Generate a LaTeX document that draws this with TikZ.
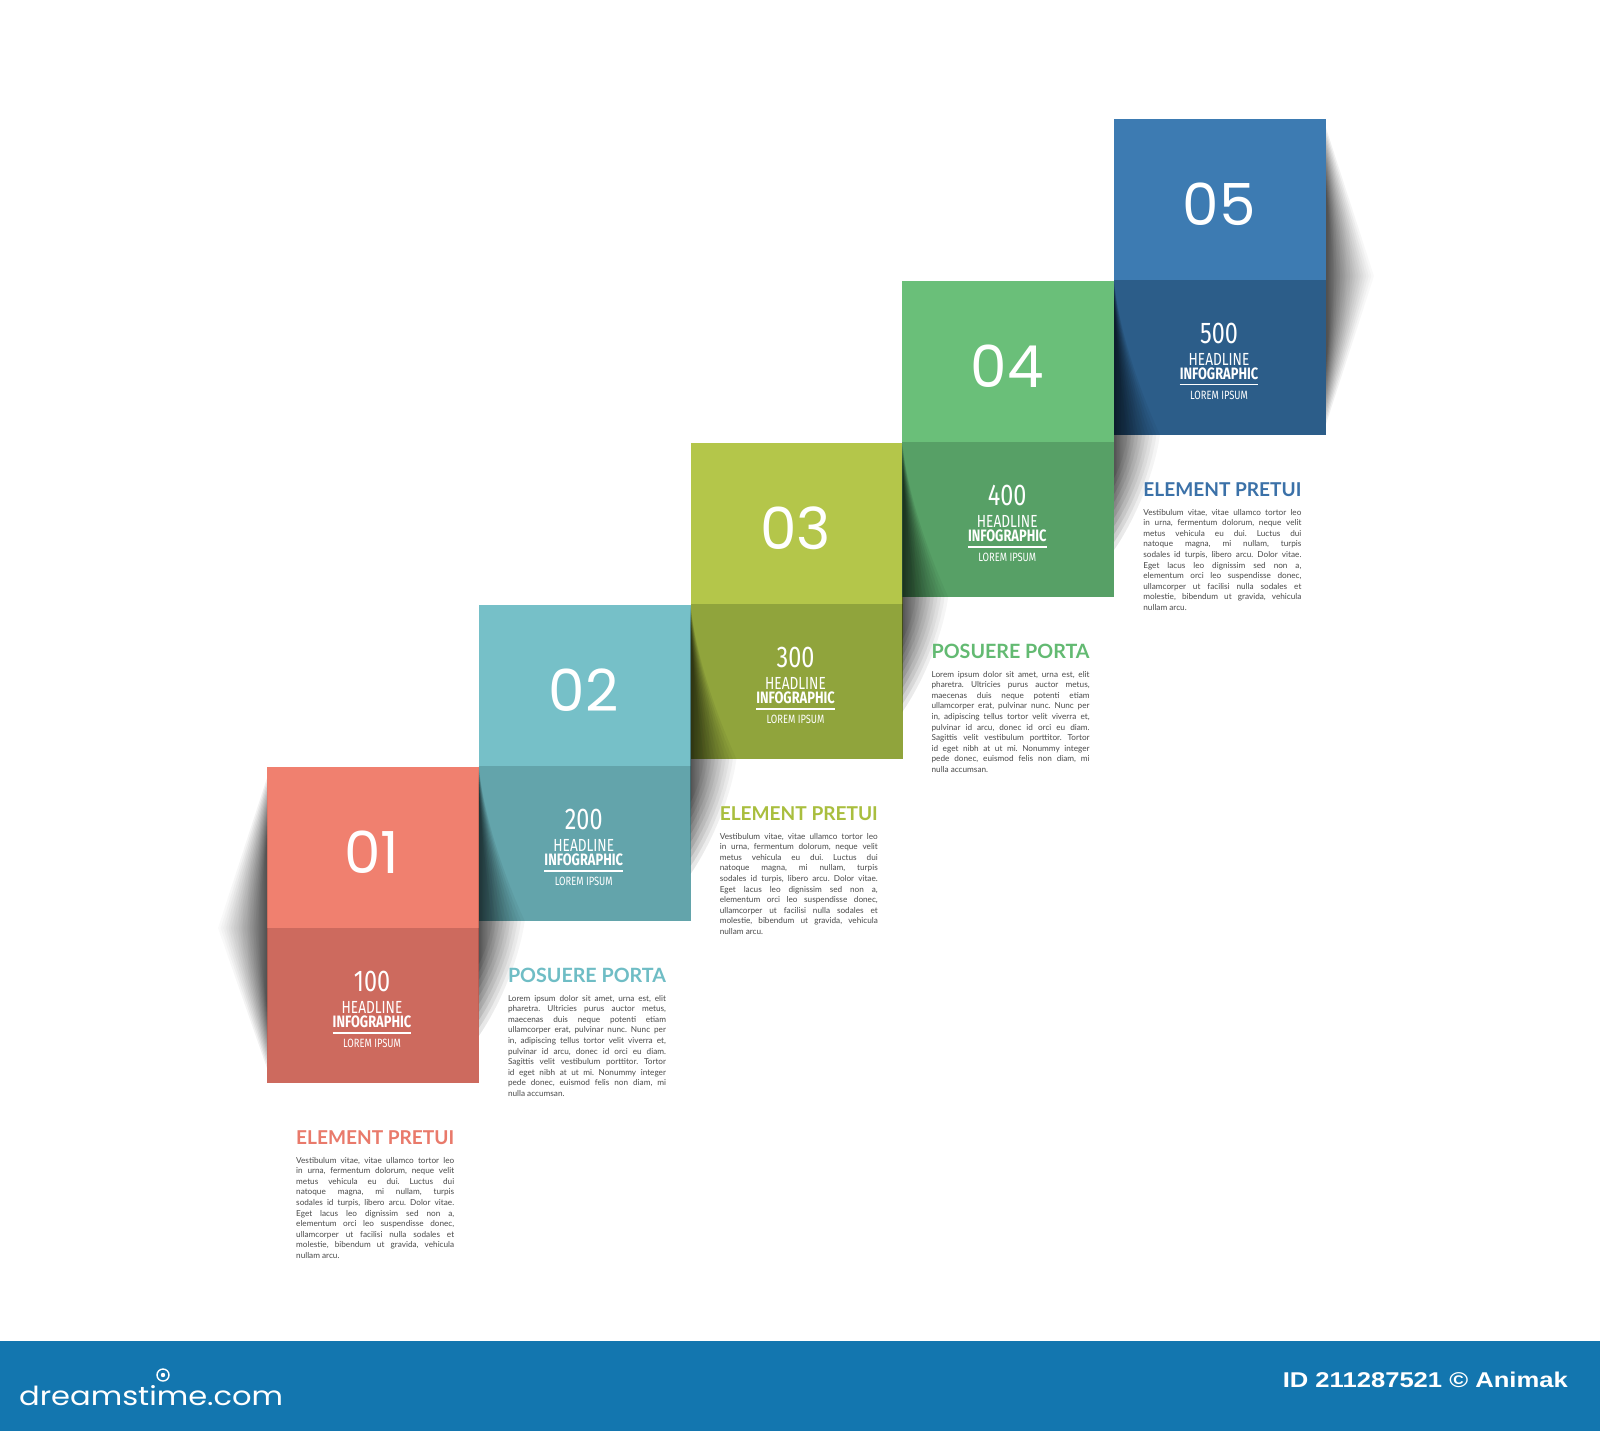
\documentclass[tikz,border=0pt]{standalone}
\usepackage{graphicx}
\usepackage{fontspec}
\setmainfont{Lato}
\newfontfamily\numfont{Poppins}
\newfontfamily\condfont[FakeStretch=0.78]{Fira Sans}
\newfontfamily\credfont{Liberation Sans}
\usetikzlibrary{fadings}
\definecolor{ca1}{HTML}{F0806F}\definecolor{cb1}{HTML}{CD6A5E}
\definecolor{ca2}{HTML}{76C0C8}\definecolor{cb2}{HTML}{63A4AB}
\definecolor{ca3}{HTML}{B4C64A}\definecolor{cb3}{HTML}{90A43C}
\definecolor{ca4}{HTML}{6ABF79}\definecolor{cb4}{HTML}{57A066}
\definecolor{ca5}{HTML}{3D7BB2}\definecolor{cb5}{HTML}{2C5D89}
\definecolor{hd1}{HTML}{E97A6B}
\definecolor{hd2}{HTML}{6FBDC5}
\definecolor{hd3}{HTML}{A9BE3E}
\definecolor{hd4}{HTML}{63BA72}
\definecolor{hd5}{HTML}{3B71A8}
\definecolor{bodygray}{HTML}{4A4A4A}
\definecolor{barblue}{HTML}{1376AF}

\pgfdeclarehorizontalshading{shLshade}{100bp}{color(0bp)=(white); color(35bp)=(black!50); color(100bp)=(black)}
\pgfdeclarefading{shL}{\pgfuseshading{shLshade}}
\pgfdeclarehorizontalshading{shRshade}{100bp}{color(0bp)=(black); color(65bp)=(black!50); color(100bp)=(white)}
\pgfdeclarefading{shR}{\pgfuseshading{shRshade}}

\newcommand\jl[1]{\hbox to 158pt{\spaceskip=\fontdimen2\font plus 1fil\relax #1}}
\newcommand\bodyfnt{\fontsize{8.2}{10.6}\selectfont\frenchspacing}
\newcommand\bodyA{\jl{Vestibulum vitae, vitae ullamco tortor leo}\jl{in urna, fermentum dolorum, neque velit}\jl{metus vehicula eu dui. Luctus dui}\jl{natoque magna, mi nullam, turpis}\jl{sodales id turpis, libero arcu. Dolor vitae.}\jl{Eget lacus leo dignissim sed non a,}\jl{elementum orci leo suspendisse donec,}\jl{ullamcorper ut facilisi nulla sodales et}\jl{molestie, bibendum ut gravida, vehicula}\hbox{nullam arcu.}}
\newcommand\bodyB{\jl{Lorem ipsum dolor sit amet, urna est, elit}\jl{pharetra. Ultricies purus auctor metus,}\jl{maecenas duis neque potenti etiam}\jl{ullamcorper erat, pulvinar nunc. Nunc per}\jl{in, adipiscing tellus tortor velit viverra et,}\jl{pulvinar id arcu, donec id orci eu diam.}\jl{Sagittis velit vestibulum porttitor. Tortor}\jl{id eget nibh at ut mi. Nonummy integer}\jl{pede donec, euismod felis non diam, mi}\hbox{nulla accumsan.}}

\begin{document}
\begin{tikzpicture}[x=1pt,y=-1pt,
  numtext/.style={text=white,inner sep=0,font=\numfont\fontsize{58}{58}\selectfont},
  valtext/.style={text=white,inner sep=0,font=\condfont\fontsize{30}{30}\selectfont},
  hltext/.style={text=white,inner sep=0,font=\condfont\fontsize{17.5}{17.5}\selectfont},
  inftext/.style={text=white,inner sep=0,font=\condfont\bfseries\fontsize{16.5}{16.5}\selectfont},
  lortext/.style={text=white,inner sep=0,font=\condfont\fontsize{12}{12}\selectfont},
  headtext/.style={anchor=base west,inner sep=0},
  bodytext/.style={anchor=base west,inner sep=0,font=\bodyfnt,text=bodygray},
  shadowpart/.style={fill=black}
]
\useasboundingbox (0,0) rectangle (1600,1431);
\fill[white] (0,0) rectangle (1600,1431);

% boxes
\foreach \i/\n in {0/1,1/2,2/3,3/4,4/5}{
  \pgfmathsetmacro\L{267+211.75*\i}
  \pgfmathsetmacro\R{\L+212}
  \pgfmathsetmacro\T{767-162*\i}
  \pgfmathsetmacro\D{\T+161}
  \pgfmathsetmacro\B{\T+316}
  \fill[ca\n] (\L,\T) rectangle (\R,\D);
  \fill[cb\n] (\L,\D) rectangle (\R,\B);
}

% shadows between steps
\foreach \i in {1,...,4}{
  \pgfmathsetmacro\L{267+211.75*\i}
  \pgfmathsetmacro\D{767-162*\i+161}
  \pgfmathsetmacro\B{767-162*\i+316}
  \foreach \k in {0,...,9}{
    \pgfmathsetmacro\w{46-3.6*\k}
    \pgfmathsetmacro\l{115-8*\k}
    \fill[shadowpart, opacity=0.16, path fading=shL] (\L,\D+2*\k) .. controls (\L+0.1*\w,\D+50) and (\L+0.55*\w,\B-45) .. (\L+\w,\B) .. controls (\L+0.85*\w,\B+0.4*\l) and (\L+0.35*\w,\B+0.8*\l) .. (\L,\B+\l) -- cycle;
  }
}

% end wedges
\foreach \k in {0,...,15}{
  \fill[shadowpart, opacity=0.105, path fading=shR] (267,778+4*\k) -- (218+2.6*\k,928) -- (267,1068-4*\k) -- cycle;
  \fill[shadowpart, opacity=0.105, path fading=shL] (1326,128+4*\k) -- (1374-2.6*\k,276) -- (1326,424-4*\k) -- cycle;
}

% texts in boxes
\foreach \i/\n/\nn/\vv in {0/1/01/100,1/2/02/200,2/3/03/300,3/4/04/400,4/5/05/500}{
  \pgfmathsetmacro\cx{267+211.75*\i+105}
  \pgfmathsetmacro\dy{162*\i}
  \node[numtext] (num\n) at (\cx,852-\dy) {\nn};
  \node[valtext] (val\n) at (\cx,981-\dy) {\vv};
  \node[hltext] (hl\n) at (\cx,1007-\dy) {HEADLINE};
  \node[inftext] (inf\n) at (\cx,1022-\dy) {INFOGRAPHIC};
  \draw[white, line width=1.6pt] ([yshift=-4.5pt]inf\n.south west) -- ([yshift=-4.5pt]inf\n.south east);
  \node[lortext] (lor\n) at (\cx,1043-\dy) {LOREM IPSUM};
}

% text columns
\foreach \i/\n/\hh/\bb in {0/1/ELEMENT PRETUI/\bodyA,1/2/POSUERE PORTA/\bodyB,2/3/ELEMENT PRETUI/\bodyA,3/4/POSUERE PORTA/\bodyB,4/5/ELEMENT PRETUI/\bodyA}{
  \pgfmathsetmacro\X{296+211.8*\i}
  \node[headtext, text=hd\n] (head\n) at (\X,1144.5-162*\i) {\resizebox{158pt}{!}{\bfseries \hh}};
  \node[bodytext] (body\n) at (\X,1163-162*\i) {\vtop{\bb}};
}

% bottom bar
\fill[barblue] (0,1341) rectangle (1600,1431);
\node[anchor=base west, inner sep=0, text=white] (logo) at (19,1405) {\resizebox{264pt}{20pt}{\numfont dreamstime.com}};
\draw[white, line width=1.4pt] (163,1375) circle[radius=6];
\fill[white] (163,1375) circle[radius=2.2];
\node[anchor=base east, inner sep=0, text=white] (credit) at (1568,1387) {\resizebox{285pt}{15.5pt}{\credfont\bfseries ID 211287521 © Animak}};
\end{tikzpicture}
\end{document}
